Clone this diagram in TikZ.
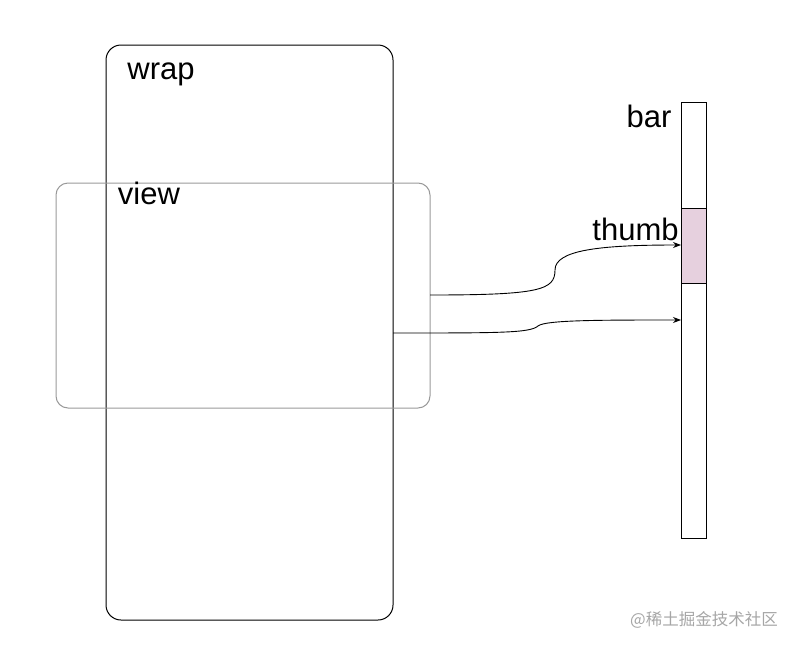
\documentclass[tikz,border=0pt]{standalone}
\usepackage{fontspec}
\setmainfont{Liberation Sans}
\newfontfamily\cjk{Noto Sans CJK SC}
\usetikzlibrary{arrows.meta}
\begin{document}
\begin{tikzpicture}[x=1pt,y=-1pt,
  lbl/.style={font=\fontsize{31}{34}\selectfont, inner sep=0pt},
  conn/.style={-{Stealth[length=8pt,width=6pt]}, line width=0.9pt}]
\useasboundingbox (0,0) rectangle (797,648);
\draw[line width=1pt, rounded corners=15pt] (106,45) rectangle (393,620);
\draw[line width=1pt, draw=gray!80, rounded corners=12pt] (56,183) rectangle (430,408);
\node[draw, line width=1pt, minimum width=25pt, minimum height=436pt, inner sep=0pt] (bar) at (693.5,320) {};
\node[draw, line width=1pt, fill={rgb,255:red,230;green,208;blue,222}, minimum width=25pt, minimum height=75pt, inner sep=0pt] (thumb) at (693.5,245.5) {};
\node[lbl] (wrap) at (161,74) {wrap};
\node[lbl] (view) at (149,193) {view};
\node[lbl] (barl) at (649,116) {bar};
\node[lbl] (thumbl) at (635.5,229) {thumb};
\coordinate (s1) at (430,295);
\coordinate (s2) at (393,333);
\coordinate (e1) at (681,245);
\coordinate (e2) at (681,320);
\draw[conn] (s1) .. controls (540,295) and (555,290) .. (555,270) .. controls (555,250) and (600,245) .. (e1);
\draw[conn] (s2) .. controls (500,333) and (530,333) .. (538,326) .. controls (545,320) and (600,320) .. (e2);
\node[font=\cjk\fontsize{16.5}{18}\selectfont, text=gray!70, inner sep=0pt] (wm) at (704,620) {@稀土掘金技术社区};
\end{tikzpicture}
\end{document}
